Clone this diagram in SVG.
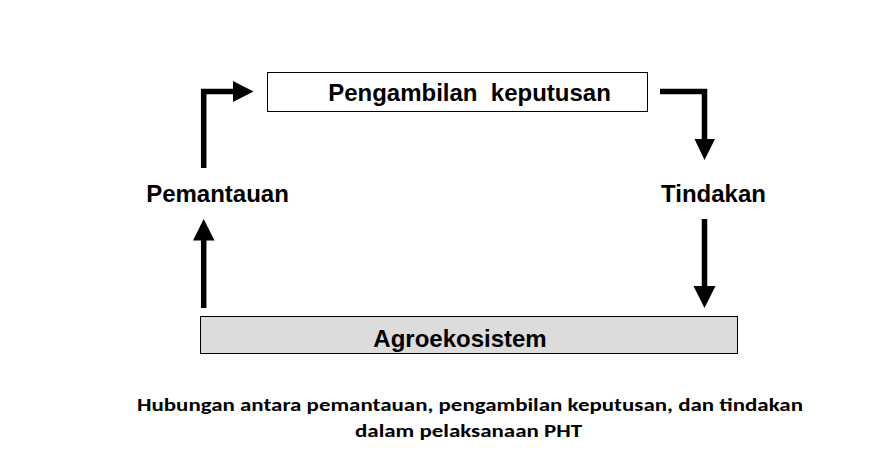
<svg xmlns="http://www.w3.org/2000/svg" width="890" height="457" viewBox="0 0 890 457">
<style>
.lbl{font-family:"Liberation Sans",Arial,sans-serif;font-weight:bold;font-size:24px;fill:#000}
.cap{font-family:Carlito,"Open Sans","Liberation Sans",sans-serif;font-weight:bold;font-size:18px;fill:#000}
.ln{fill:none;stroke:#000;stroke-width:5.5;stroke-linejoin:miter}
.hd{fill:#000}
</style>
<rect width="890" height="457" fill="#fff"/>
<g id="node-pengambilan">
<rect x="267.5" y="72.5" width="380" height="39" fill="#fff" stroke="#000" stroke-width="1"/>
<text class="lbl" x="469.5" y="101" text-anchor="middle" xml:space="preserve">Pengambilan  keputusan</text>
</g>
<g id="node-pemantauan">
<text class="lbl" x="217.5" y="202" text-anchor="middle">Pemantauan</text>
</g>
<g id="node-tindakan">
<text class="lbl" x="713.5" y="202" text-anchor="middle">Tindakan</text>
</g>
<g id="node-agroekosistem">
<rect x="200.5" y="316.5" width="537" height="37" fill="#dcdcdc" stroke="#000" stroke-width="1"/>
<text class="lbl" x="460" y="347" text-anchor="middle">Agroekosistem</text>
</g>
<g id="connectors">
<path class="ln" d="M203.7 168 V91.5 H234"/>
<polygon class="hd" points="233,81 253.5,91.5 233,102"/>
<path class="ln" d="M660 91.5 H704.5 V140"/>
<polygon class="hd" points="694.5,139 715,139 704.5,160"/>
<path class="ln" d="M203.7 308 V239"/>
<polygon class="hd" points="193,240.5 214.5,240.5 203.7,219"/>
<path class="ln" d="M704.5 219 V287"/>
<polygon class="hd" points="693.5,286 715.5,286 704.5,308"/>
</g>
<g id="caption">
<text class="cap" x="470" y="411" text-anchor="middle" textLength="666" lengthAdjust="spacingAndGlyphs">Hubungan antara pemantauan, pengambilan keputusan, dan tindakan</text>
<text class="cap" x="468.5" y="437" text-anchor="middle" textLength="227" lengthAdjust="spacingAndGlyphs">dalam pelaksanaan PHT</text>
</g>
</svg>
